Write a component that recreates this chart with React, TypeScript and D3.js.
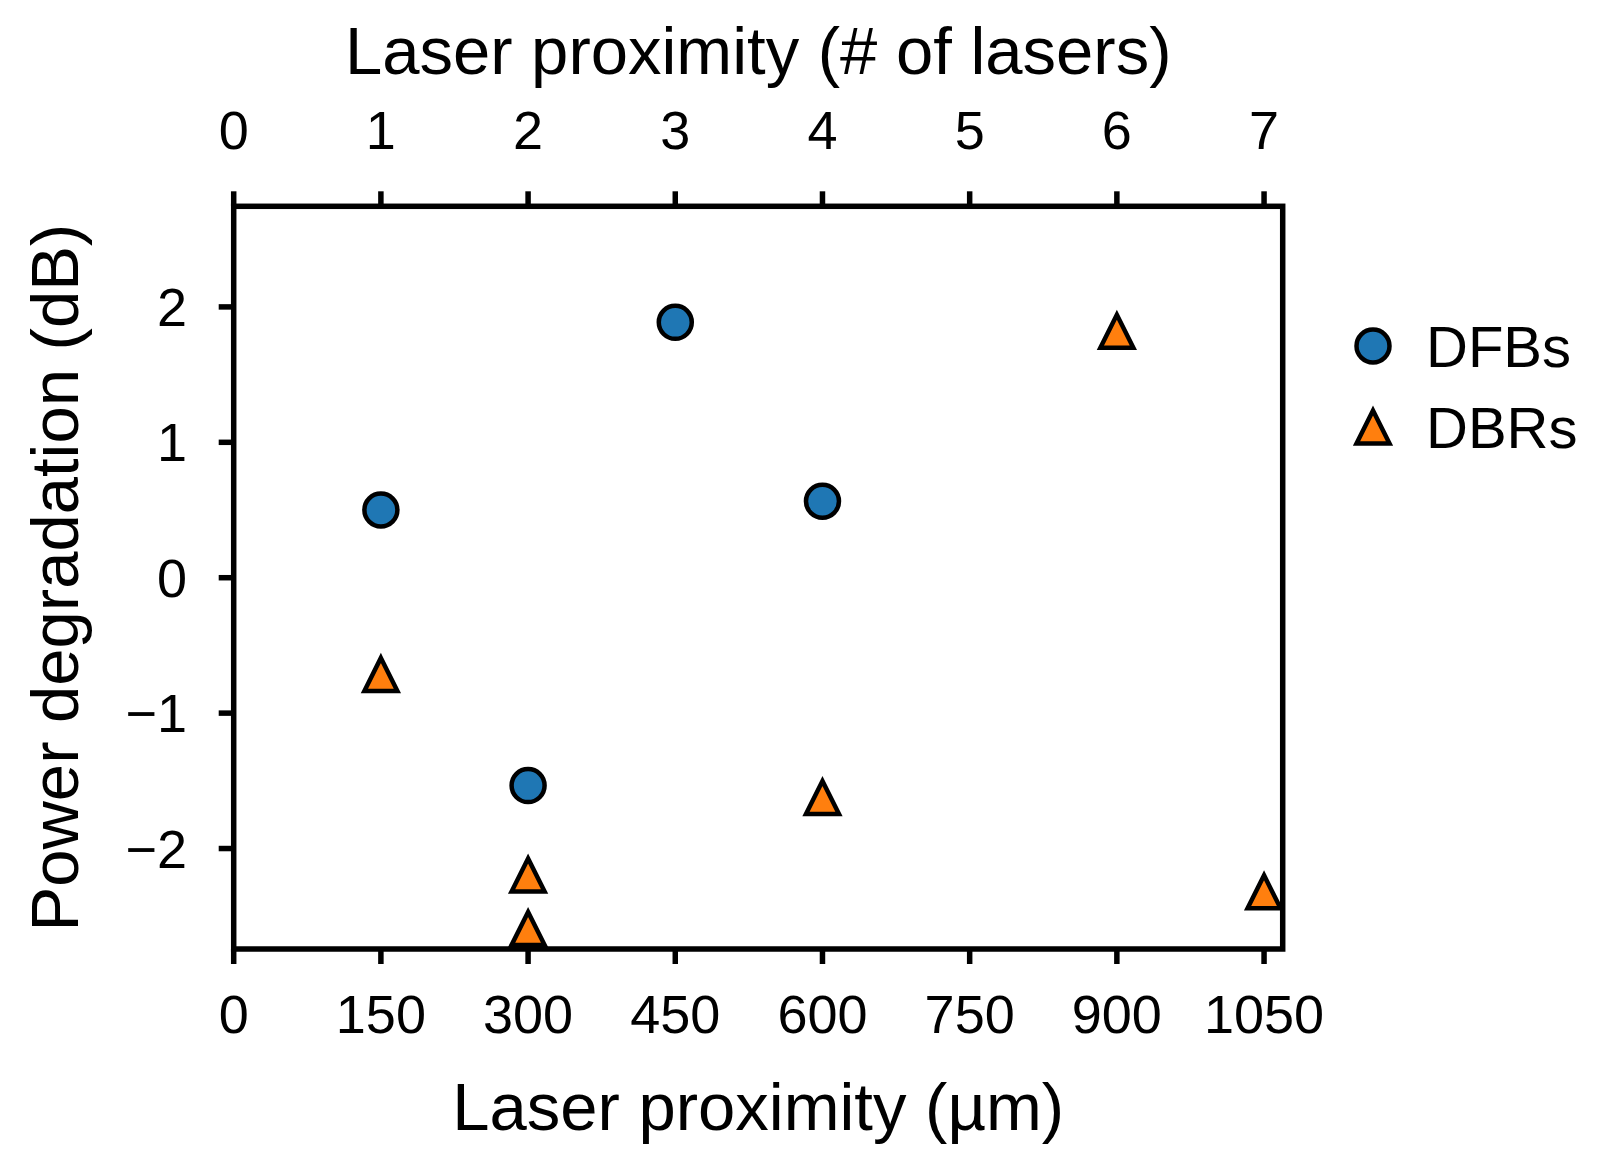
import * as d3 from "d3";

// data
const dfbX = [150, 300, 450, 600];
const dfbY = [0.5, -1.535, 1.886, 0.565];
const dbrX = [150, 300, 300, 600, 900, 1050];
const dbrY = [-0.714, -2.196, -2.59, -1.623, 1.82, -2.32];

const bottomTicks = [0, 150, 300, 450, 600, 750, 900, 1050];
const topTickLabels = ["0", "1", "2", "3", "4", "5", "6", "7"];
const yTicks = [-2, -1, 0, 1, 2];

const W = 1601;
const H = 1168;
const font = "'Liberation Sans', Arial, sans-serif";
const blue = "#1f77b4";
const orange = "#ff7f0e";

const x = d3.scaleLinear().domain([0, 1069]).range([233.7, 1282.7]);
const y = d3.scaleLinear().domain([-2.742, 2.743]).range([949, 206.3]);

const tri = (s: number) => `M0,${-s}L${s},${s}L${-s},${s}Z`;
const fmt = (v: number) => (v < 0 ? "\u2212" + Math.abs(v) : String(v));

export default function App() {
  const [x0, x1] = x.range();
  const [y0, y1] = y.range(); // y0 bottom, y1 top
  const lw = 5.5;
  const tick = 15;
  const ms = 4.5; // marker edge width

  return (
    <svg
      width={W}
      height={H}
      viewBox={`0 0 ${W} ${H}`}
      style={{ position: "absolute", left: 0, top: 0, background: "#fff" }}
      fontFamily={font}
    >
      <rect width={W} height={H} fill="#fff" />

      {/* markers */}
      {dfbX.map((d, i) => (
        <circle
          key={"c" + i}
          cx={x(d)}
          cy={y(dfbY[i])}
          r={16.5}
          fill={blue}
          stroke="#000"
          strokeWidth={ms}
        />
      ))}
      {dbrX.map((d, i) => (
        <path
          key={"t" + i}
          d={tri(16.5)}
          transform={`translate(${x(d)},${y(dbrY[i])})`}
          fill={orange}
          stroke="#000"
          strokeWidth={ms}
        />
      ))}

      {/* frame */}
      <rect
        x={x0}
        y={y1}
        width={x1 - x0}
        height={y0 - y1}
        fill="none"
        stroke="#000"
        strokeWidth={lw}
        strokeLinecap="square"
      />

      {/* bottom axis */}
      {bottomTicks.map((t) => (
        <g key={"b" + t}>
          <line x1={x(t)} x2={x(t)} y1={y0} y2={y0 + tick} stroke="#000" strokeWidth={lw} />
          <text x={x(t)} y={1033} fontSize={54} textAnchor="middle">
            {t}
          </text>
        </g>
      ))}
      <text x={(x0 + x1) / 2} y={1130} fontSize={67} textAnchor="middle">
        Laser proximity (µm)
      </text>

      {/* top axis */}
      {bottomTicks.map((t, i) => (
        <g key={"tp" + t}>
          <line x1={x(t)} x2={x(t)} y1={y1} y2={y1 - tick} stroke="#000" strokeWidth={lw} />
          <text x={x(t)} y={149} fontSize={54} textAnchor="middle">
            {topTickLabels[i]}
          </text>
        </g>
      ))}
      <text x={(x0 + x1) / 2} y={74} fontSize={67} textAnchor="middle">
        Laser proximity (# of lasers)
      </text>

      {/* left axis */}
      {yTicks.map((t) => (
        <g key={"y" + t}>
          <line x1={x0} x2={x0 - tick} y1={y(t)} y2={y(t)} stroke="#000" strokeWidth={lw} />
          <text x={187} y={y(t)} dy="0.355em" fontSize={54} textAnchor="end">
            {fmt(t)}
          </text>
        </g>
      ))}
      <text
        transform={`translate(78,${(y0 + y1) / 2}) rotate(-90)`}
        fontSize={67}
        textAnchor="middle"
      >
        Power degradation (dB)
      </text>

      {/* legend */}
      <circle cx={1373} cy={346} r={16.5} fill={blue} stroke="#000" strokeWidth={ms} />
      <path d={tri(16.5)} transform="translate(1373,427)" fill={orange} stroke="#000" strokeWidth={ms} />
      <text x={1426} y={367} fontSize={58}>
        DFBs
      </text>
      <text x={1426} y={448} fontSize={58}>
        DBRs
      </text>
    </svg>
  );
}
